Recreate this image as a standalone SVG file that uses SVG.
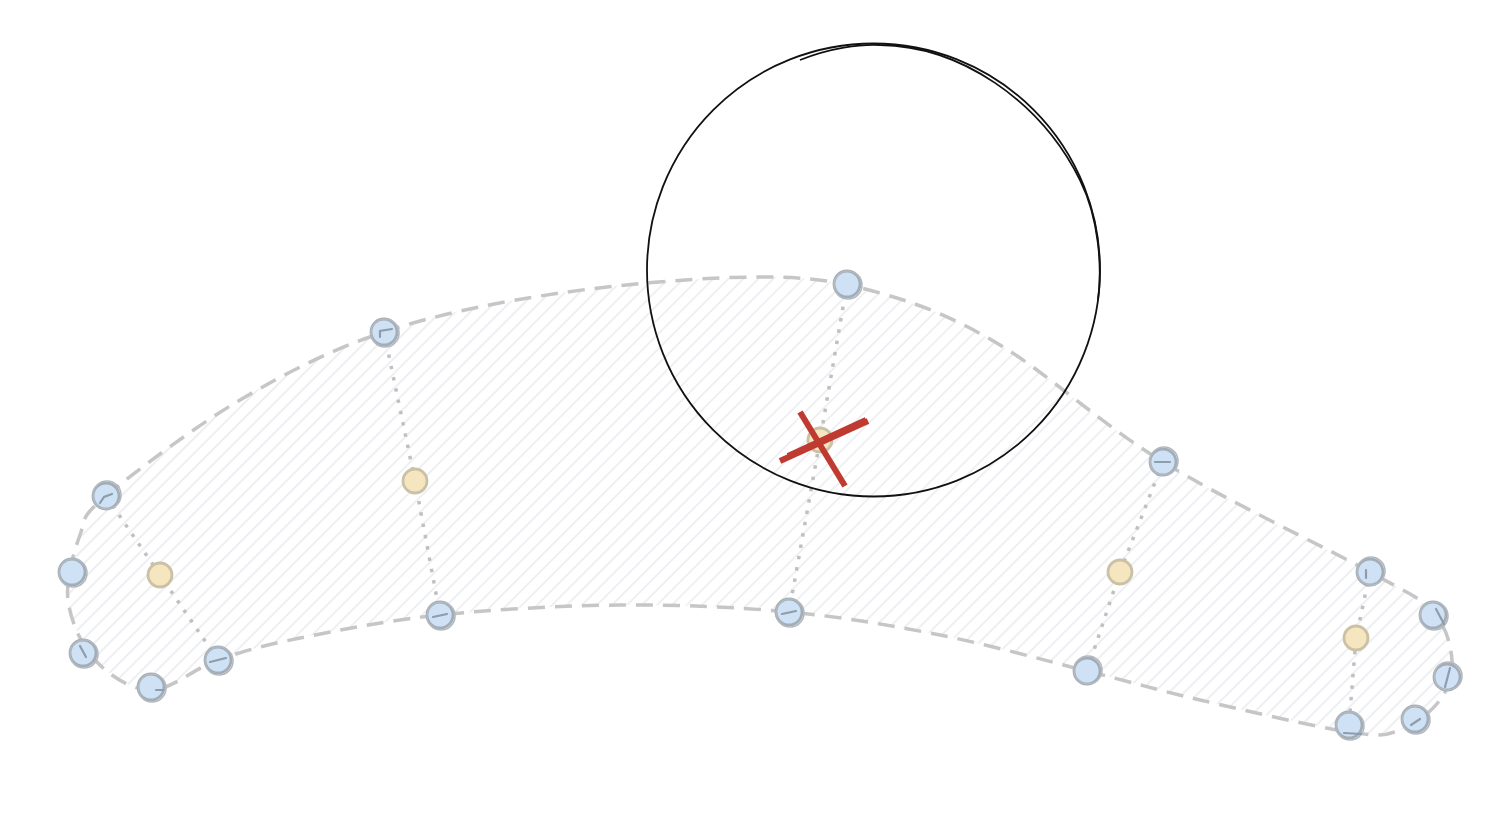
<svg xmlns="http://www.w3.org/2000/svg" width="1502" height="814" viewBox="0 0 1502 814">
<style>
.outline{fill:url(#hatch);stroke:#c6c6c6;stroke-width:3.5;stroke-dasharray:17 10;stroke-linecap:butt}
.link{fill:none;stroke:#c0c0c0;stroke-width:3.5;stroke-dasharray:3.5 8}
.pt{fill:#cfe1f4;stroke:#a2adb8;stroke-width:2.8}
.ptr{fill:none;stroke:#b3b9bf;stroke-width:1.6}
.mid{fill:#f6e6bf;stroke:#cbc1a6;stroke-width:2.8}
.mark{stroke:#8e9dac;stroke-width:2.2;fill:none;stroke-linecap:round}
.ring{fill:none;stroke:#111;stroke-width:1.8}
.cross{stroke:#bf3a30;stroke-width:6;stroke-linecap:butt;fill:none}
</style>
<defs>
<pattern id="hatch" patternUnits="userSpaceOnUse" width="10.6" height="10.6" patternTransform="rotate(45)">
<line x1="2" y1="0" x2="2" y2="10.6" stroke="#eceef1" stroke-width="1.8"/>
</pattern>
</defs>
<rect width="1502" height="814" fill="#ffffff"/>
<g id="region">
<path class="outline" d="M106 496 C132.7 473.5 193.7 427.3 240 400 C286.3 372.7 330.7 349.8 384 332 C437.3 314.2 497.3 302.2 560 293 C622.7 283.8 706.7 277 760 277 C813.3 277 840 281.7 880 293 C920 304.3 952.8 316.8 1000 345 C1047.2 373.2 1101.3 424.2 1163 462 C1224.7 499.8 1325 547 1370 572 C1415 597 1419.3 597.3 1433 612 C1446.7 626.7 1450.8 645.3 1452 660 C1453.2 674.7 1448.7 688.3 1440 700 C1431.3 711.7 1415.2 724.7 1400 730 C1384.8 735.3 1382.3 737 1349 732 C1315.7 727 1243.7 710.2 1200 700 C1156.3 689.8 1130.3 681.8 1087 671 C1043.7 660.2 989.7 644.8 940 635 C890.3 625.2 842.3 617 789 612 C735.7 607 678.2 604.5 620 605 C561.8 605.5 493.3 609.5 440 615 C386.7 620.5 337 630.5 300 638 C263 645.5 242.8 651.3 218 660 C193.2 668.7 171.5 690 151 690 C130.5 690 108.8 675 95 660 C81.2 645 70.5 620.8 68 600 C65.5 579.2 73.7 552.3 80 535 C86.3 517.7 79.3 518.5 106 496 Z"/>
</g>
<g id="connectors">
<polyline class="link" points="106,496 160,575 218,660"/>
<polyline class="link" points="384,332 415,481 440,615"/>
<polyline class="link" points="847,284 820,440 789,612"/>
<polyline class="link" points="1163,462 1120,572 1087,671"/>
<polyline class="link" points="1370,572 1356,638 1349,725"/>
</g>
<g id="points">
<g id="p1"><circle class="pt" cx="106" cy="496" r="13"/><circle class="ptr" cx="107" cy="495" r="14"/><path class="mark" d="M100 503 L104 497 L112 494"/></g>
<g id="p2"><circle class="pt" cx="72" cy="572" r="13"/><circle class="ptr" cx="73" cy="573" r="14"/></g>
<g id="p3"><circle class="pt" cx="83" cy="653" r="13"/><circle class="ptr" cx="84" cy="654" r="14"/><path class="mark" d="M80 646 L86 657"/></g>
<g id="p4"><circle class="pt" cx="151" cy="687" r="13"/><circle class="ptr" cx="152" cy="688" r="14"/><path class="mark" d="M156 690 L163 690"/></g>
<g id="p5"><circle class="pt" cx="218" cy="660" r="13"/><circle class="ptr" cx="219" cy="661" r="14"/><path class="mark" d="M210 662 L226 658"/></g>
<g id="p6"><circle class="pt" cx="384" cy="332" r="13"/><circle class="ptr" cx="385" cy="333" r="14"/><path class="mark" d="M380 337 L380 331 L392 329"/></g>
<g id="p7"><circle class="pt" cx="440" cy="615" r="13"/><circle class="ptr" cx="441" cy="616" r="14"/><path class="mark" d="M433 617 L447 614"/></g>
<g id="p8"><circle class="pt" cx="847" cy="284" r="13"/><circle class="ptr" cx="848" cy="285" r="14"/></g>
<g id="p9"><circle class="pt" cx="789" cy="612" r="13"/><circle class="ptr" cx="790" cy="613" r="14"/><path class="mark" d="M782 614 L796 611"/></g>
<g id="p10"><circle class="pt" cx="1163" cy="462" r="13"/><circle class="ptr" cx="1164" cy="461" r="14"/><path class="mark" d="M1155 462 L1170 462"/></g>
<g id="p11"><circle class="pt" cx="1087" cy="671" r="13"/><circle class="ptr" cx="1088" cy="670" r="14"/></g>
<g id="p12"><circle class="pt" cx="1370" cy="572" r="13"/><circle class="ptr" cx="1371" cy="571" r="14"/><path class="mark" d="M1366 570 L1366 578"/></g>
<g id="p13"><circle class="pt" cx="1433" cy="615" r="13"/><circle class="ptr" cx="1434" cy="616" r="14"/><path class="mark" d="M1436 609 L1444 624"/></g>
<g id="p14"><circle class="pt" cx="1447" cy="677" r="13"/><circle class="ptr" cx="1448" cy="676" r="14"/><path class="mark" d="M1450 668 L1445 687"/></g>
<g id="p15"><circle class="pt" cx="1415" cy="719" r="13"/><circle class="ptr" cx="1416" cy="720" r="14"/><path class="mark" d="M1411 725 L1420 719"/></g>
<g id="p16"><circle class="pt" cx="1349" cy="725" r="13"/><circle class="ptr" cx="1350" cy="726" r="14"/><path class="mark" d="M1344 733 L1361 734"/></g>
</g>
<g id="midpoints">
<g id="m1"><circle class="mid" cx="160" cy="575" r="12"/></g>
<g id="m2"><circle class="mid" cx="415" cy="481" r="12"/></g>
<g id="m3"><circle class="mid" cx="820" cy="440" r="12"/></g>
<g id="m4"><circle class="mid" cx="1120" cy="572" r="12"/></g>
<g id="m5"><circle class="mid" cx="1356" cy="638" r="12"/></g>
</g>
<g id="circle">
<circle class="ring" cx="873.5" cy="270" r="226.5"/>
<path class="ring" stroke-width="1.2" d="M800 60 C830 48 860 44 880 45 C960 46 1040 100 1080 180 C1100 220 1102 270 1098 300"/>
</g>
<g id="cross">
<line class="cross" x1="800" y1="412" x2="845" y2="486"/>
<line class="cross" x1="780" y1="461" x2="868" y2="421"/>
<line class="cross" stroke-width="3" x1="788" y1="456" x2="866" y2="420"/>
</g>
</svg>
